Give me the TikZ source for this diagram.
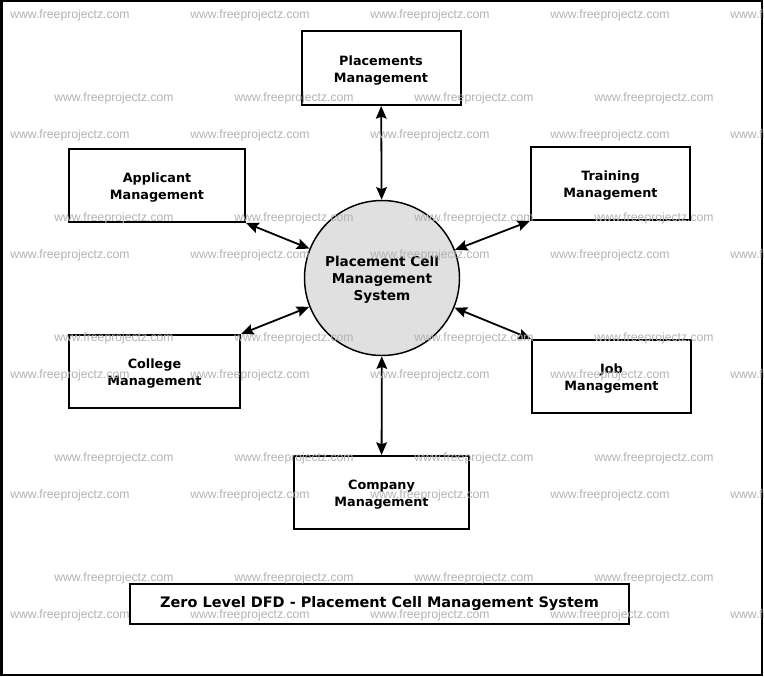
\documentclass[tikz,border=0pt]{standalone}
\usepackage{fontspec}
\setmainfont{DejaVu Sans}
\newfontfamily\wmfont{Liberation Sans}
\usetikzlibrary{arrows.meta}
\definecolor{procgray}{HTML}{E0E0E0}
\newcommand\topstrut{\rule{0pt}{10.5pt}}
\tikzset{
  entity/.style={draw, line width=1.5pt, align=center, inner sep=0pt,
    font=\bfseries\fontsize{9.6}{12.75}\selectfont, minimum height=54.75pt},
  flow/.style={line width=1.35pt, {Stealth[length=9.5pt,width=8pt,inset=1.5pt]}-{Stealth[length=9.5pt,width=8pt,inset=1.5pt]}},
  wm/.style={text=black!30, font=\wmfont\fontsize{9.15}{11}\selectfont},
}
\begin{document}
\begin{tikzpicture}[x=0.75pt, y=-0.75pt]
  \clip (0,0) rectangle (764,677);
  \draw[line width=1.5pt] (1.5,1.5) rectangle (761.5,674.5);
  % central process
  \node[draw, circle, line width=1.1pt, fill=procgray, minimum size=116.25pt, align=center,
    font=\bfseries\fontsize{10.2}{12.75}\selectfont] (pcms) at (382,278)
    {\topstrut Placement Cell\\Management\\System};
  % external entities
  \node[entity, minimum width=119.25pt, minimum height=55.5pt] (place) at (381,68) {\topstrut Placements\\Management};
  \node[entity, minimum width=132pt] (app) at (157,185.5) {\topstrut Applicant\\Management};
  \node[entity, minimum width=119.25pt] (train) at (610.5,183.5) {\topstrut Training\\Management};
  \node[entity, minimum width=128.25pt] (coll) at (154.5,371.5) {\topstrut College\\Management};
  \node[entity, minimum width=119.25pt] (job) at (611.5,376.5) {\topstrut Job\\Management};
  \node[entity, minimum width=131.25pt] (comp) at (381.5,492.5) {\topstrut Company\\Management};
  % flows
  \draw[flow] (place) -- (pcms);
  \draw[flow] (app.south east) -- (pcms);
  \draw[flow] (train.south west) -- (pcms);
  \draw[flow] (coll.north east) -- (pcms);
  \draw[flow] (job.north west) -- (pcms);
  \draw[flow] (comp) -- (pcms);
  % caption
  \node[draw, line width=1.5pt, minimum width=374.25pt, minimum height=30pt,
    font=\bfseries\fontsize{10.85}{12}\selectfont] (title) at (379.5,604)
    {Zero Level DFD - Placement Cell Management System};
  % watermark
  \foreach \y in {15,135,255,375,495,615}
    \foreach \x in {70,250,430,610,790}
      \node[wm] at (\x,\y) {www.freeprojectz.com};
  \foreach \y in {98,218,338,458,578}
    \foreach \x in {114,294,474,654}
      \node[wm] at (\x,\y) {www.freeprojectz.com};
\end{tikzpicture}
\end{document}
